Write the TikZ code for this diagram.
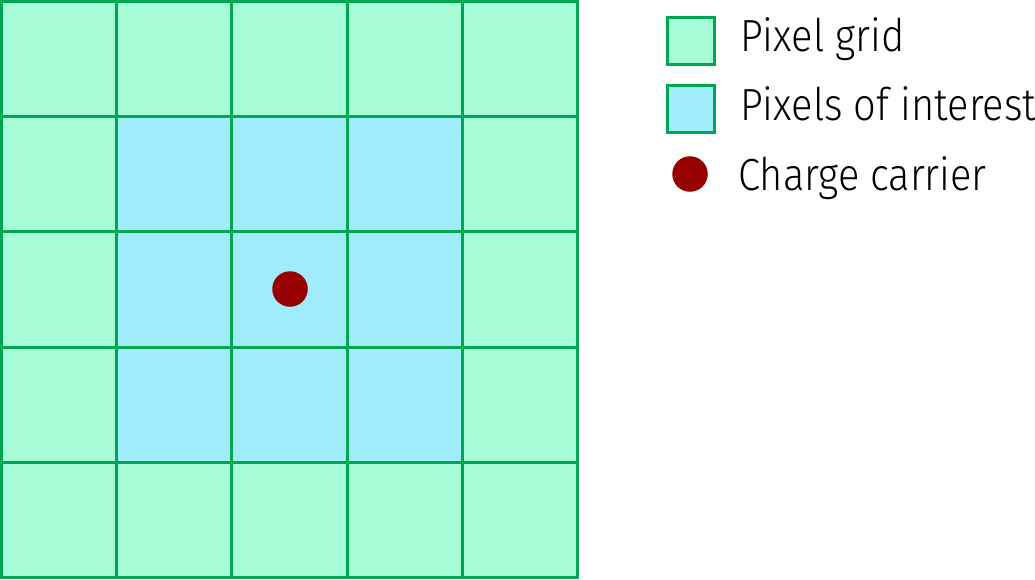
\documentclass[tikz,border=0pt]{standalone}
\usepackage{fontspec}
\setmainfont{Fira Sans Light}
\definecolor{gridgreen}{HTML}{00A651}
\definecolor{cellgreen}{HTML}{A6FCD6}
\definecolor{cellblue}{HTML}{A0ECFB}
\definecolor{carrier}{HTML}{960000}
\newcommand{\legscale}[1]{\scalebox{0.885}[1]{#1}}
\begin{document}
\begin{tikzpicture}[x=1pt,y=-1pt,
  cellbox/.style={draw=gridgreen,line width=3pt},
  legtext/.style={anchor=base west,inner sep=0pt,font=\fontsize{45}{54}\selectfont},
  dotstyle/.style={circle,fill=carrier,inner sep=0pt,minimum size=35.5pt}]
\useasboundingbox (0,0) rectangle (1035,579);
\fill[cellgreen] (1.5,1.5) rectangle (577.5,577.5);
\fill[cellblue] (116.7,116.7) rectangle (462.3,462.3);
\foreach \i in {0,...,5}{
  \draw[gridgreen,line width=3pt] ({1.5+115.2*\i},0) -- ({1.5+115.2*\i},579);
  \draw[gridgreen,line width=3pt] (0,{1.5+115.2*\i}) -- (579,{1.5+115.2*\i});
}
\node[dotstyle] (carrier) at (290,289) {};
% legend
\node[cellbox,fill=cellgreen,minimum size=47pt,inner sep=0pt] (lg1) at (690.7,40.7) {};
\node[cellbox,fill=cellblue,minimum size=47pt,inner sep=0pt] (lg2) at (690.7,109.2) {};
\node[dotstyle] (lg3) at (690,174) {};
\node[legtext] (t1) at (740,51.7) {\legscale{Pixel grid}};
\node[legtext] (t2) at (740,120.7) {\legscale{Pixels of interest}};
\node[legtext] (t3) at (738,190) {\legscale{Charge carrier}};
\end{tikzpicture}
\end{document}
